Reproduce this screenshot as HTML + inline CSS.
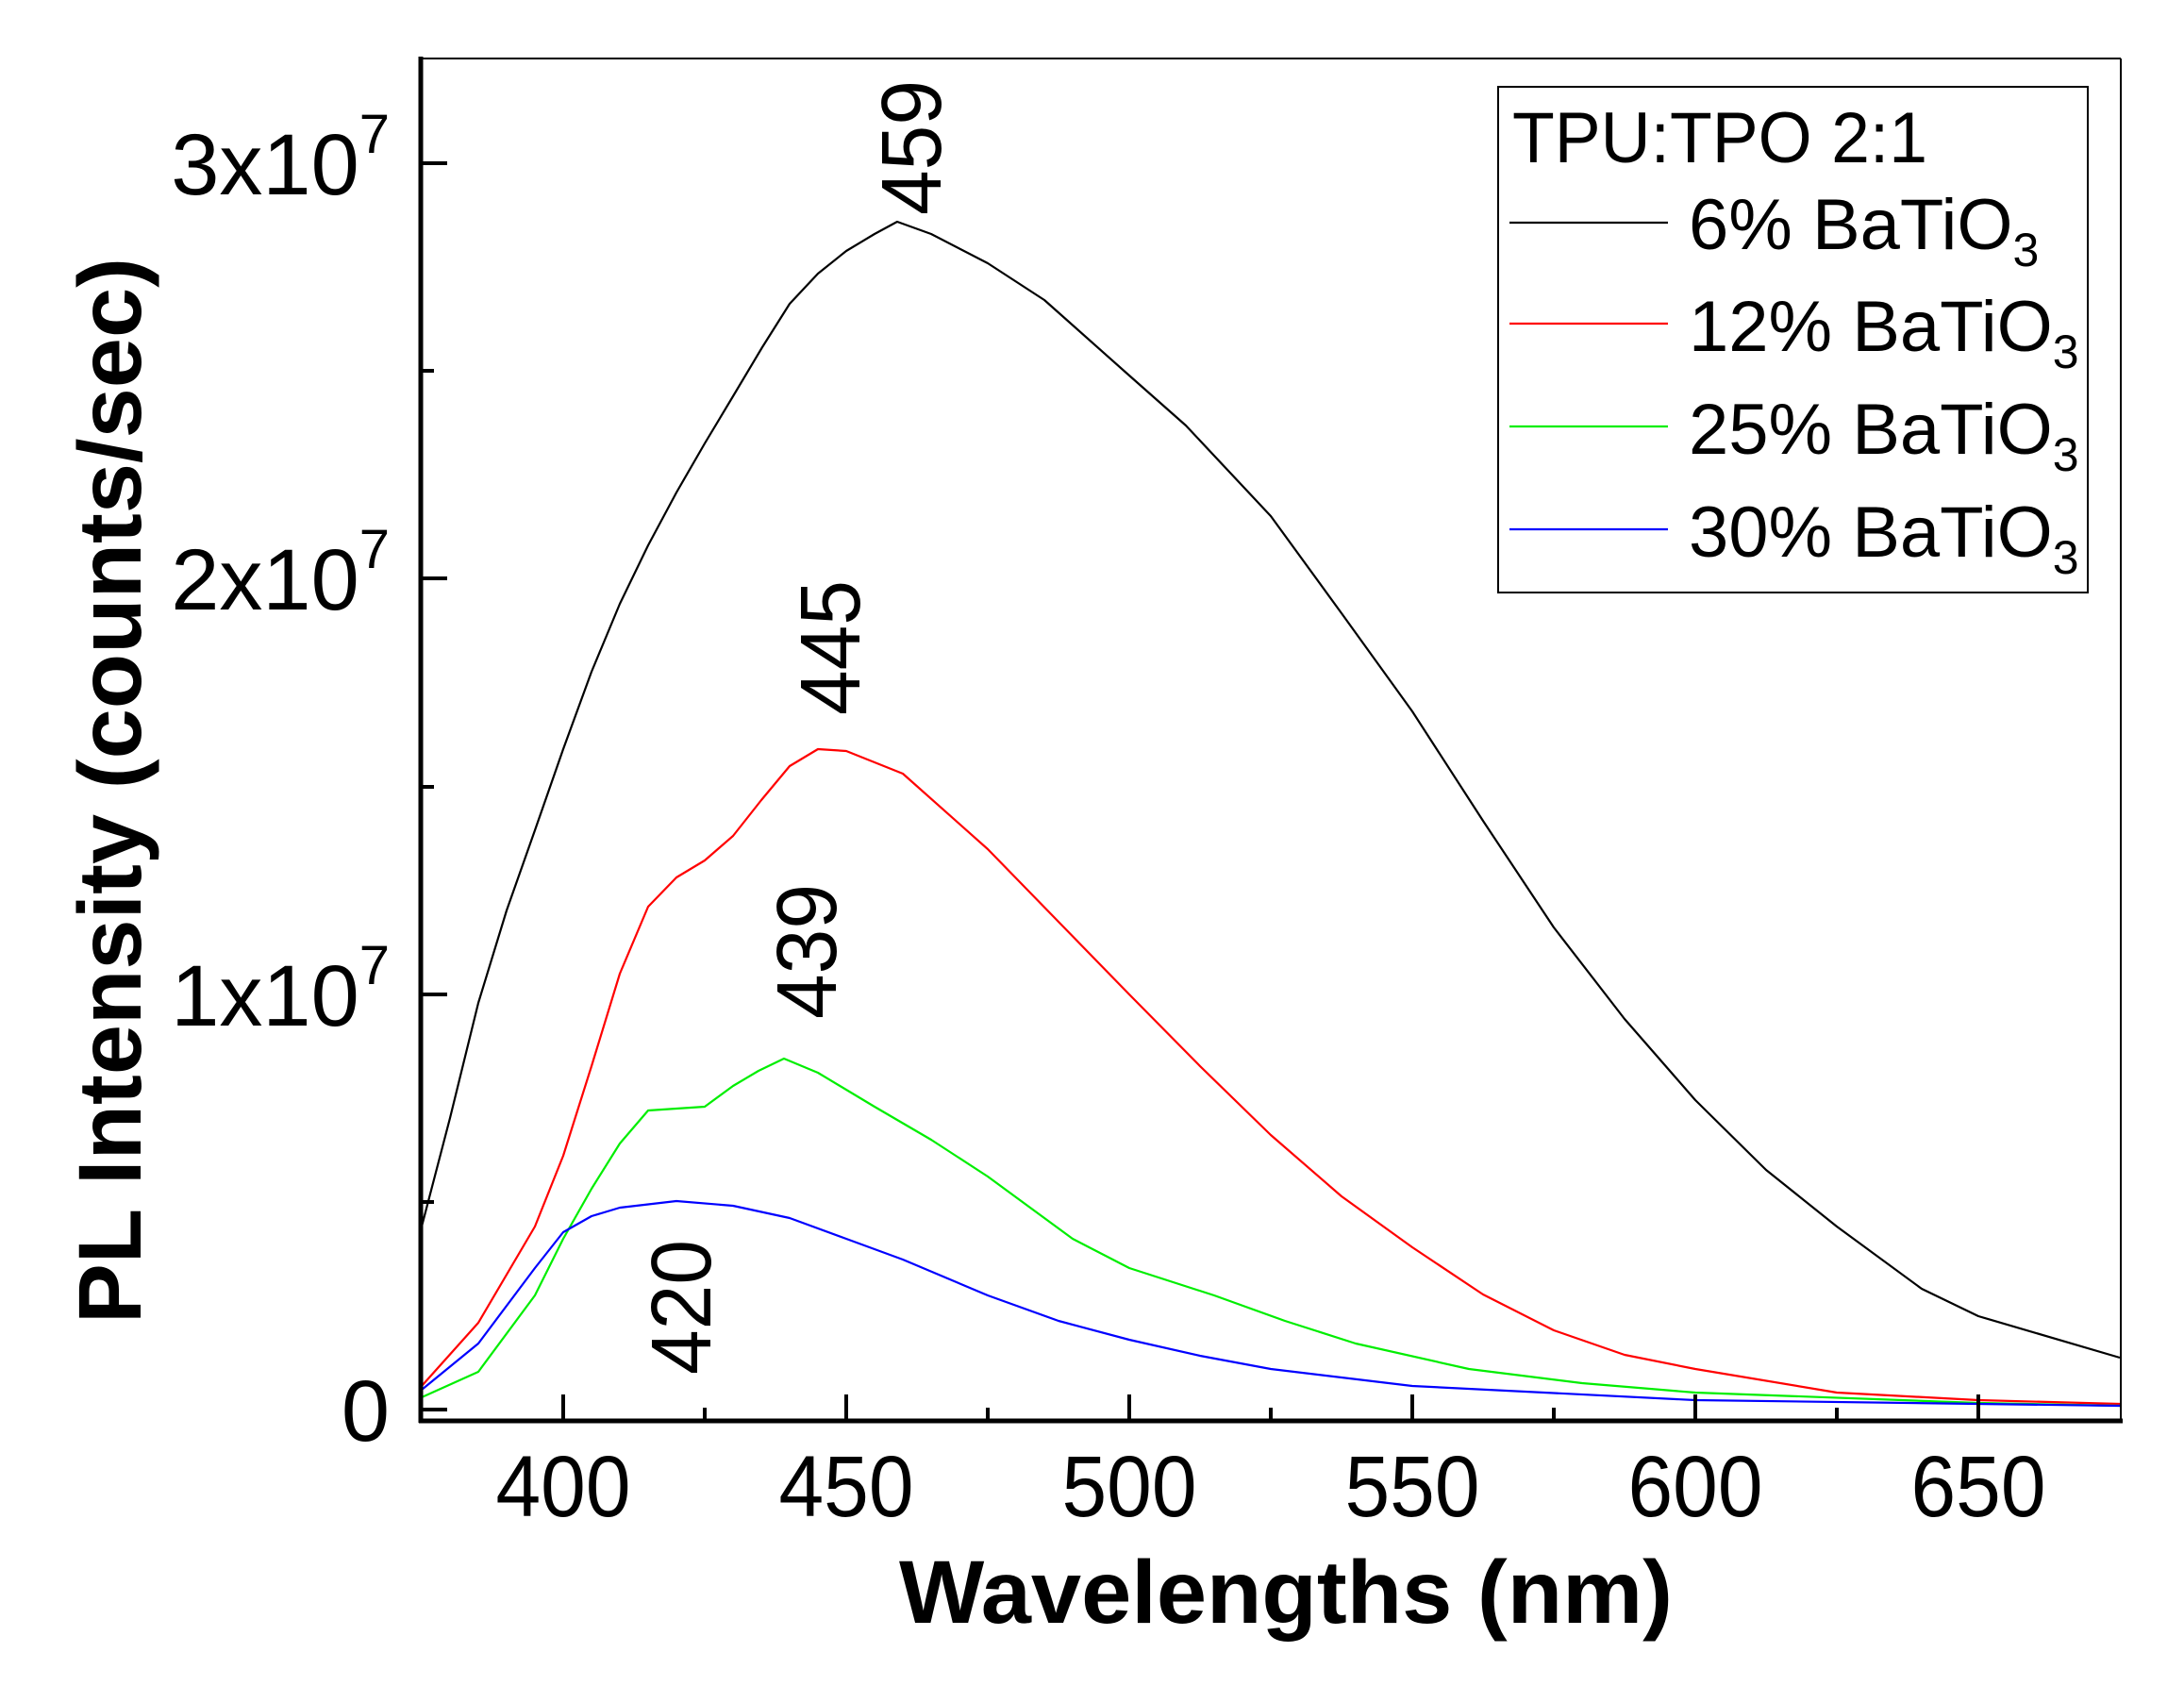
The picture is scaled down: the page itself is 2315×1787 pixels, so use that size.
<!DOCTYPE html>
<html><head><meta charset="utf-8"><style>html,body{margin:0;padding:0;background:#fff}svg{display:block}</style></head>
<body>
<svg width="2315" height="1787" viewBox="0 0 2315 1787" xmlns="http://www.w3.org/2000/svg" font-family="Liberation Sans, Arial, sans-serif">
<rect width="2315" height="1787" fill="#fff"/>
<g fill="none" stroke-width="2.2" stroke-linejoin="round">
<polyline stroke="#000" points="447,1300 477,1185 507,1063 537,965 567,880 597,794 627,712 657,640 687,578 717,522 747,470 777,420 808,368 837,322 867,290 897,266 927,248 951,235 987,248 1047,279 1107,318 1197,398 1257,451 1347,547 1422,650 1497,754 1572,870 1647,983 1722,1080 1797,1166 1872,1240 1947,1300 2037,1366 2097,1395 2247,1439"/>
<polyline stroke="#f00" points="447,1469 507,1402 567,1300 597,1225 627,1130 657,1032 687,961 717,930 747,912 777,886 807,848 837,812 867,794 897,796 957,820 1047,900 1122,977 1197,1054 1272,1130 1347,1203 1422,1268 1497,1322 1572,1372 1647,1410 1722,1436 1797,1451 1947,1476 2097,1484 2247,1488"/>
<polyline stroke="#0e0" points="447,1481 507,1454 567,1373 597,1313 627,1260 657,1212 687,1177 717,1175 747,1173 777,1151 804,1135 831,1122 867,1137 927,1173 987,1208 1047,1247 1137,1313 1197,1344 1287,1373 1362,1400 1437,1424 1557,1451 1677,1466 1797,1476 2097,1487 2247,1490"/>
<polyline stroke="#00f" points="447,1473 507,1424 567,1344 597,1306 627,1289 657,1280 717,1273 777,1278 837,1291 897,1313 957,1335 1047,1373 1122,1400 1197,1420 1272,1437 1347,1451 1497,1469 1797,1484 2247,1490"/>
</g>
<line x1="446" y1="62" x2="2248" y2="62" stroke="#000" stroke-width="2"/>
<line x1="2248" y1="62" x2="2248" y2="1506" stroke="#000" stroke-width="2"/>
<line x1="446" y1="60" x2="446" y2="1508" stroke="#000" stroke-width="5"/>
<line x1="444" y1="1506" x2="2250" y2="1506" stroke="#000" stroke-width="5"/>
<g stroke="#000" stroke-width="4">
<line x1="597" y1="1506" x2="597" y2="1478"/><line x1="747" y1="1506" x2="747" y2="1492"/>
<line x1="897" y1="1506" x2="897" y2="1478"/><line x1="1047" y1="1506" x2="1047" y2="1492"/>
<line x1="1197" y1="1506" x2="1197" y2="1478"/><line x1="1347" y1="1506" x2="1347" y2="1492"/>
<line x1="1497" y1="1506" x2="1497" y2="1478"/><line x1="1647" y1="1506" x2="1647" y2="1492"/>
<line x1="1797" y1="1506" x2="1797" y2="1478"/><line x1="1947" y1="1506" x2="1947" y2="1492"/>
<line x1="2097" y1="1506" x2="2097" y2="1478"/>
<line x1="446" y1="1494" x2="474" y2="1494"/><line x1="446" y1="1274" x2="460" y2="1274"/>
<line x1="446" y1="1054" x2="474" y2="1054"/><line x1="446" y1="834" x2="460" y2="834"/>
<line x1="446" y1="613" x2="474" y2="613"/><line x1="446" y1="393" x2="460" y2="393"/>
<line x1="446" y1="173" x2="474" y2="173"/>
</g>
<g font-size="92" fill="#000" text-anchor="middle">
<text x="597" y="1607" textLength="143" lengthAdjust="spacingAndGlyphs">400</text>
<text x="897" y="1607" textLength="143" lengthAdjust="spacingAndGlyphs">450</text>
<text x="1197" y="1607" textLength="143" lengthAdjust="spacingAndGlyphs">500</text>
<text x="1497" y="1607" textLength="143" lengthAdjust="spacingAndGlyphs">550</text>
<text x="1797" y="1607" textLength="143" lengthAdjust="spacingAndGlyphs">600</text>
<text x="2097" y="1607" textLength="143" lengthAdjust="spacingAndGlyphs">650</text>
</g>
<g font-size="92" fill="#000" text-anchor="end">
<text x="413" y="1527">0</text>
<text x="413" y="1087">1x10<tspan font-size="58" dy="-44">7</tspan></text>
<text x="413" y="646">2x10<tspan font-size="58" dy="-44">7</tspan></text>
<text x="413" y="206">3x10<tspan font-size="58" dy="-44">7</tspan></text>
</g>
<text x="1363" y="1720" font-size="95" font-weight="bold" text-anchor="middle" textLength="820" lengthAdjust="spacingAndGlyphs">Wavelengths (nm)</text>
<text transform="translate(149,838) rotate(-90)" font-size="95" font-weight="bold" text-anchor="middle" textLength="1130" lengthAdjust="spacingAndGlyphs">PL Intensity (counts/sec)</text>
<g font-size="90" fill="#000">
<text transform="translate(997,228) rotate(-90)" textLength="143" lengthAdjust="spacingAndGlyphs">459</text>
<text transform="translate(911,758) rotate(-90)" textLength="143" lengthAdjust="spacingAndGlyphs">445</text>
<text transform="translate(886,1080) rotate(-90)" textLength="143" lengthAdjust="spacingAndGlyphs">439</text>
<text transform="translate(753,1457) rotate(-90)" textLength="143" lengthAdjust="spacingAndGlyphs">420</text>
</g>
<rect x="1588" y="92" width="625" height="536" fill="#fff" stroke="#000" stroke-width="2"/>
<g font-size="76" fill="#000">
<text x="1603" y="172" textLength="440" lengthAdjust="spacingAndGlyphs">TPU:TPO 2:1</text>
<text x="1790" y="264">6% BaTiO<tspan font-size="50" dy="18">3</tspan></text>
<text x="1790" y="372">12% BaTiO<tspan font-size="50" dy="18">3</tspan></text>
<text x="1790" y="481">25% BaTiO<tspan font-size="50" dy="18">3</tspan></text>
<text x="1790" y="590">30% BaTiO<tspan font-size="50" dy="18">3</tspan></text>
</g>
<line x1="1600" y1="236" x2="1768" y2="236" stroke="#000" stroke-width="2.2"/>
<line x1="1600" y1="343" x2="1768" y2="343" stroke="#f00" stroke-width="2.2"/>
<line x1="1600" y1="452" x2="1768" y2="452" stroke="#0e0" stroke-width="2.2"/>
<line x1="1600" y1="561" x2="1768" y2="561" stroke="#00f" stroke-width="2.2"/>
</svg>
</body></html>
